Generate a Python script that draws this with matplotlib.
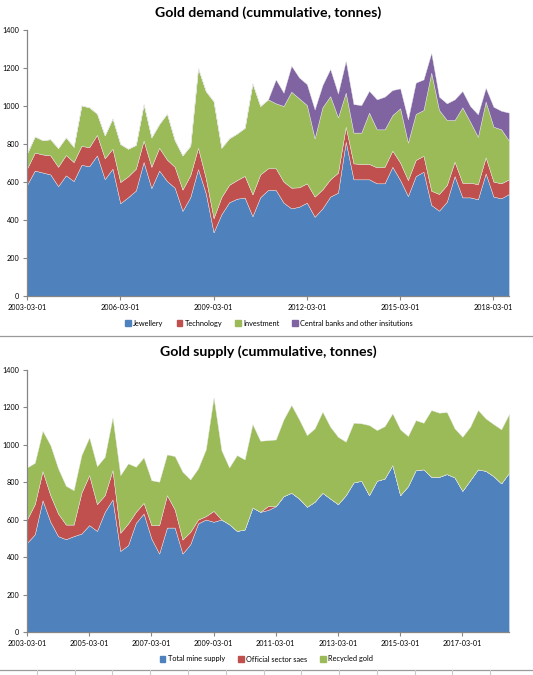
import matplotlib
matplotlib.use("Agg")
import matplotlib.pyplot as plt
from matplotlib.lines import Line2D
from matplotlib.patches import Patch
import numpy as np
import pandas as pd

# quarterly categories, 2003-03-01 .. 2018-09-01
dates = pd.date_range("2003-03-01", periods=63, freq="3MS").strftime("%Y-%m-%d").tolist()

# ---- demand (tonnes) ----
jewellery = [585, 660, 650, 640, 578, 635, 605, 690, 683, 740, 615, 670, 488, 520, 555, 705,
             568, 660, 605, 570, 448, 520, 668, 540, 335, 430, 493, 512, 518, 420, 520, 558,
             558, 491, 461, 470, 491, 417, 461, 523, 544, 812, 614, 614, 614, 593, 593, 680,
             610, 526, 631, 654, 479, 449, 496, 631, 519, 519, 509, 645, 523, 514, 537]
technology = [85, 95, 95, 100, 102, 107, 100, 100, 100, 108, 110, 105, 112, 110, 115, 113,
              112, 120, 113, 110, 112, 115, 112, 80, 75, 90, 92, 98, 114, 115, 120, 114,
              114, 111, 109, 102, 102, 106, 100, 91, 105, 79, 84, 81, 81, 84, 87, 85,
              92, 84, 85, 84, 75, 88, 88, 76, 77, 77, 80, 85, 79, 79, 77]
investment = [80, 85, 75, 85, 98, 93, 80, 213, 210, 112, 120, 160, 200, 145, 125, 192,
              155, 125, 242, 140, 180, 155, 420, 458, 615, 260, 245, 245, 253, 585, 360, 363,
              342, 398, 505, 468, 412, 307, 432, 438, 291, 179, 162, 165, 270, 200, 197, 187,
              286, 197, 242, 241, 621, 442, 342, 219, 397, 321, 249, 293, 289, 284, 203]
central_banks = [0] * 31 + [0, 126, 70, 137, 110, 110, 152, 117, 143, 126, 168, 150, 145, 115,
                            158, 172, 132, 105, 123, 165, 161, 105, 70, 88, 109, 86, 83, 118,
                            73, 105, 98, 148]

# ---- supply (tonnes) ----
mine_supply = [476, 522, 704, 589, 512, 496, 512, 526, 571, 540, 642, 708, 433, 464, 583, 633,
               499, 419, 558, 558, 419, 469, 580, 601, 589, 601, 576, 540, 548, 665, 642, 652,
               672, 726, 744, 713, 669, 696, 744, 713, 683, 731, 799, 808, 731, 808, 820, 892,
               731, 779, 865, 869, 829, 829, 844, 826, 754, 811, 869, 861, 833, 794, 851]
official_sales = [125, 161, 156, 142, 121, 78, 62, 218, 267, 143, 89, 157, 97, 116, 59, 57,
                  72, 152, 173, 97, 75, 66, 21, 18, 58, 0, 0, 0, 0, 0, 0, 21] + [0] * 31
recycled = [278, 221, 215, 268, 241, 207, 184, 201, 202, 203, 205, 282, 308, 321, 241, 243,
            240, 232, 218, 285, 362, 280, 273, 357, 607, 371, 303, 405, 374, 446, 380, 352,
            357, 410, 469, 423, 383, 392, 433, 384, 360, 286, 319, 307, 375, 271, 280, 276,
            352, 268, 267, 249, 357, 343, 331, 262, 289, 286, 317, 280, 278, 289, 314]

demand_labels = ["Jewellery", "Technology", "Investment", "Central banks and other insitutions"]
supply_labels = ["Total mine supply", "Official sector saes", "Recycled gold"]

BLUE, RED, GREEN, PURPLE = "#4F81BD", "#C0504D", "#9BBB59", "#8064A2"
AXCOL = "#868686"

plt.rcParams["font.family"] = ["Lato", "DejaVu Sans"]

W, H = 533, 675
fig = plt.figure(figsize=(W / 100, H / 100), dpi=100)


def frac(x0, ytop, x1, ybot):
    return [x0 / W, 1 - ybot / H, (x1 - x0) / W, (ybot - ytop) / H]


def style_axis(ax, step):
    x = np.arange(len(dates))
    ax.set_xlim(0, len(dates) - 1)
    ax.set_ylim(0, 1400)
    ax.set_yticks(range(0, 1401, 200))
    ticks = x[::step]
    ax.set_xticks(ticks)
    ax.set_xticklabels([dates[i] for i in ticks])
    for s in ["top", "right"]:
        ax.spines[s].set_visible(False)
    for s in ["left", "bottom"]:
        ax.spines[s].set_color(AXCOL)
        ax.spines[s].set_linewidth(0.9)
    ax.tick_params(axis="both", colors=AXCOL, labelcolor="black", labelsize=5.2,
                   length=3, width=0.8, pad=2.5)
    ax.set_zorder(1)


x = np.arange(len(dates))

# top chart
ax1 = fig.add_axes(frac(27, 30, 509, 296))
ax1.stackplot(x, jewellery, technology, investment, central_banks,
              colors=[BLUE, RED, GREEN, PURPLE], edgecolor="#e8e8e8", linewidth=0.3)
style_axis(ax1, 12)
fig.text(0.503, 1 - 13 / H, "Gold demand (cummulative, tonnes)", ha="center", va="center",
         fontsize=10.2, fontweight="bold")
h1 = [Patch(color=c) for c in [BLUE, RED, GREEN, PURPLE]]
fig.legend(h1, demand_labels, loc="center", bbox_to_anchor=(0.505, 1 - 323 / H), ncol=4,
           frameon=False, fontsize=5.3, handlelength=0.75, handleheight=0.75,
           handletextpad=0.3, columnspacing=1.8)

# bottom chart
ax2 = fig.add_axes(frac(27, 370, 509, 632))
ax2.stackplot(x, mine_supply, official_sales, recycled,
              colors=[BLUE, RED, GREEN], edgecolor="#e8e8e8", linewidth=0.3)
style_axis(ax2, 8)
fig.text(0.503, 1 - 352 / H, "Gold supply (cummulative, tonnes)", ha="center", va="center",
         fontsize=10.2, fontweight="bold")
h2 = [Patch(color=c) for c in [BLUE, RED, GREEN]]
fig.legend(h2, supply_labels, loc="center", bbox_to_anchor=(0.5, 1 - 659 / H), ncol=3,
           frameon=False, fontsize=5.3, handlelength=0.75, handleheight=0.75,
           handletextpad=0.3, columnspacing=1.8)

# separators, spreadsheet-like
fig.add_artist(Line2D([0, 1], [1 - 336 / H] * 2, color="#9a9a9a", lw=0.9))
fig.add_artist(Line2D([0, 1], [1 - 670 / H] * 2, color="#9a9a9a", lw=0.9))
for k in range(13):
    xp = (36.7 + 37.8 * k) / W
    fig.add_artist(Line2D([xp, xp], [0, 1 - 670 / H], color="#c8c8c8", lw=0.8))

fig.savefig("out.png", dpi=100)
